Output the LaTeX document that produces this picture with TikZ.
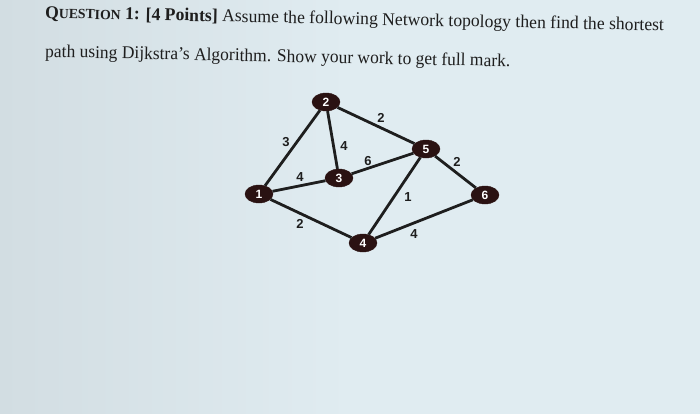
\documentclass[tikz,border=0pt]{standalone}
\usepackage{fontspec}
\setmainfont{Liberation Serif}
\setsansfont{Liberation Sans}
\usetikzlibrary{shapes.geometric}
\definecolor{screen}{HTML}{E0ECF1}
\definecolor{screenedge}{HTML}{D2DDE2}
\definecolor{vertex}{HTML}{2A1212}
\definecolor{ink}{HTML}{1E1E1E}

\begin{document}
\begin{tikzpicture}[
    x=1pt, y=-1pt,
    router/.style={ellipse, fill=vertex, draw=vertex, inner sep=0pt, minimum width=28pt, minimum height=18pt, text=white, font=\sffamily\bfseries\fontsize{12}{12}\selectfont},
    link/.style={line width=2.8pt, color=ink},
    cost/.style={font=\sffamily\bfseries\fontsize{13}{13}\selectfont, text=ink, inner sep=1pt},
    question/.style={anchor=base west, font=\fontsize{18}{20}\selectfont, text=ink, rotate=-1.2, inner sep=0pt}
]
% screen background
\shade[left color=screenedge, right color=screen, middle color=screen] (0,0) rectangle (700,413);
\useasboundingbox (0,0) rectangle (700,413);

% question text
\node[question, xscale=0.98] (line1) at (45,18) {\textbf{Q{\fontsize{14}{14}\selectfont UESTION} 1:} \textbf{[4 Points]} Assume the following Network topology then find the shortest};
\node[question, xscale=0.97] (line2) at (45,57) {path using Dijkstra's Algorithm. Show your work to get full mark.};

% routers
\node[router] (r2) at (326,102) {2};
\node[router] (r5) at (426,149) {5};
\node[router] (r3) at (339,178) {3};
\node[router] (r1) at (259,194) {1};
\node[router] (r6) at (485,195) {6};
\node[router] (r4) at (363,243) {4};

% links
\draw[link] (r1) -- (r2);
\draw[link] (r2) -- (r3);
\draw[link] (r2) -- (r5);
\draw[link] (r1) -- (r3);
\draw[link] (r3) -- (r5);
\draw[link] (r1) -- (r4);
\draw[link] (r5) -- (r4);
\draw[link] (r5) -- (r6);
\draw[link] (r4) -- (r6);

% costs
\node[cost] (c12) at (286,142) {3};
\node[cost] (c23) at (344,146) {4};
\node[cost] (c25) at (381,118) {2};
\node[cost] (c13) at (300,177) {4};
\node[cost] (c35) at (368,161) {6};
\node[cost] (c56) at (457,162) {2};
\node[cost] (c54) at (408,197) {1};
\node[cost] (c14) at (300,224) {2};
\node[cost] (c46) at (414,234) {4};

\end{tikzpicture}
\end{document}
